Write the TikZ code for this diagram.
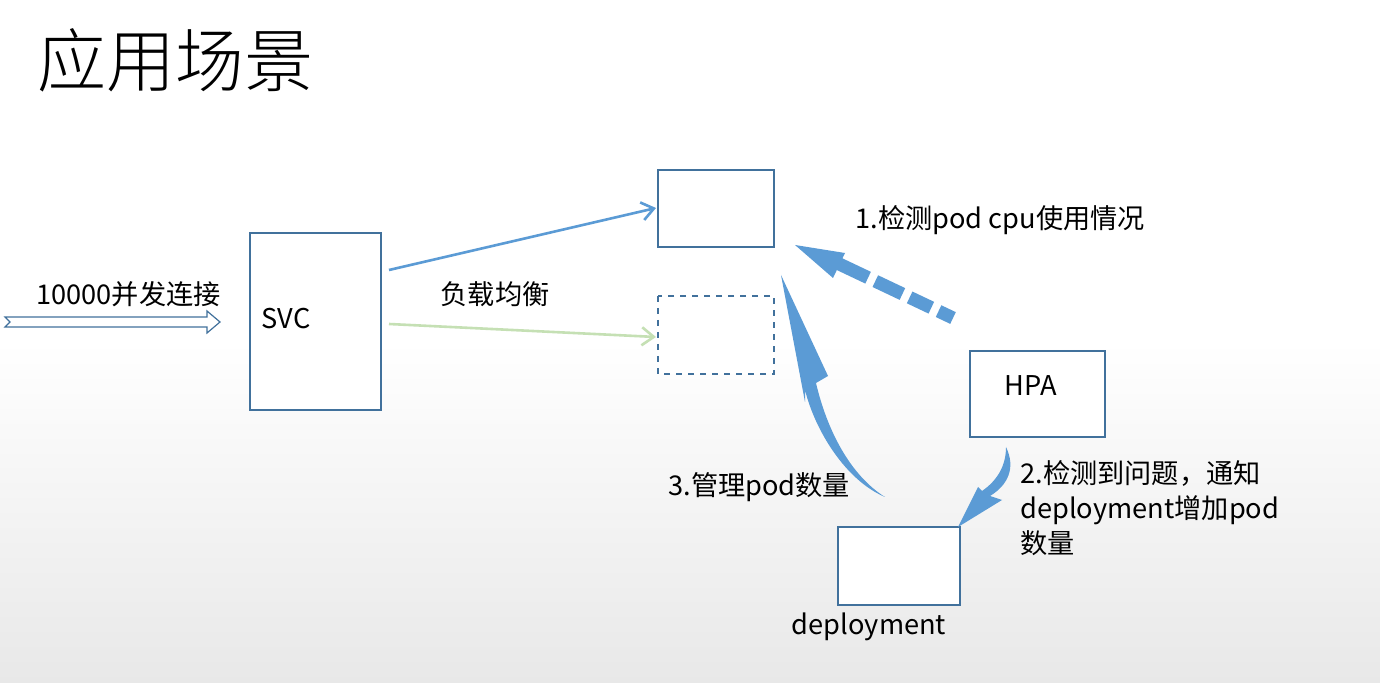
\documentclass[tikz,border=0pt]{standalone}
\usepackage{fontspec}
\setmainfont{Noto Sans CJK SC}
\newfontfamily\titlefont{Noto Sans CJK SC Light}
\usetikzlibrary{arrows.meta}
\definecolor{bx}{HTML}{41719C}
\definecolor{ar}{HTML}{5B9BD5}
\definecolor{gr}{HTML}{C5E0B4}
\begin{document}
\begin{tikzpicture}[x=0.5pt,y=-0.5pt,
 box/.style={draw=bx,fill=white,line width=0.7pt,inner sep=0},
 lbl/.style={font=\fontsize{13.6}{15}\selectfont,inner sep=0}]
\shade[top color=white,bottom color=black!9,middle color=white,shading angle=0] (0,0) rectangle (1380,683);
\useasboundingbox (0,0) rectangle (1380,683);
\node[font=\titlefont\fontsize{34.5}{38}\selectfont,anchor=west,inner sep=0] (title) at (37,60) {应用场景};
\draw[box] (658,170) rectangle (774,247);
\draw[box,dashed] (658,296) rectangle (774,374);
\draw[box] (250,233) rectangle (381,410);
\draw[box] (970,351) rectangle (1105,437);
\draw[box] (838,527) rectangle (960,605);
\node[lbl] (svc) at (286,319) {SVC};
\node[lbl] (hpa) at (1031,386) {HPA};
\node[lbl] (dep) at (869,627) {deployment};
\node[lbl] (lb) at (495,294) {负载均衡};
\node[lbl,anchor=west] (in) at (36,294) {10000并发连接};
\node[lbl,anchor=west] (t1) at (855,220) {1.检测pod cpu使用情况};
\node[lbl,anchor=west] (t3) at (668,487) {3.管理pod数量};
\node[lbl,anchor=north west,align=left,font=\fontsize{13.6}{17.5}\selectfont] (t2) at (1020,460) {2.检测到问题，通知\\deployment增加pod\\数量};
\coordinate (a1) at (389,270); \coordinate (a2) at (656,208);
\coordinate (g1) at (389,324); \coordinate (g2) at (656,337);
\draw[ar,line width=1.3pt,-{Straight Barb[length=6pt,width=9pt]}] (a1) -- (a2);
\draw[gr,line width=1.3pt,-{Straight Barb[length=6pt,width=9pt]}] (g1) -- (g2);
\draw[bx,fill=white,line width=0.6pt] (5,317)--(207,317)--(207,311)--(220,322)--(207,333)--(207,327)--(5,327)--(10,322)--cycle;
\coordinate (d1) at (953,318); \coordinate (d2) at (835,262);
\draw[ar,line width=6.5pt,dash pattern=on 8pt off 4pt on 12pt off 4pt on 15pt off 4pt on 40pt] (d1) -- (d2);
\fill[ar] (795,245)--(845,253)--(833,278)--cycle;
\fill[ar] (885,497) .. controls (845,480) and (815,430) .. (805,390) -- (805,402) -- (781,275) -- (828,376) -- (816,383) .. controls (827,430) and (850,475) .. (885,497) -- cycle;
\fill[ar] (1006,447) .. controls (1016,468) and (1008,485) .. (990,496) -- (1002,500) -- (958,527) -- (978,487) -- (982,491) .. controls (998,480) and (1006,465) .. (1006,447) -- cycle;
\end{tikzpicture}
\end{document}
